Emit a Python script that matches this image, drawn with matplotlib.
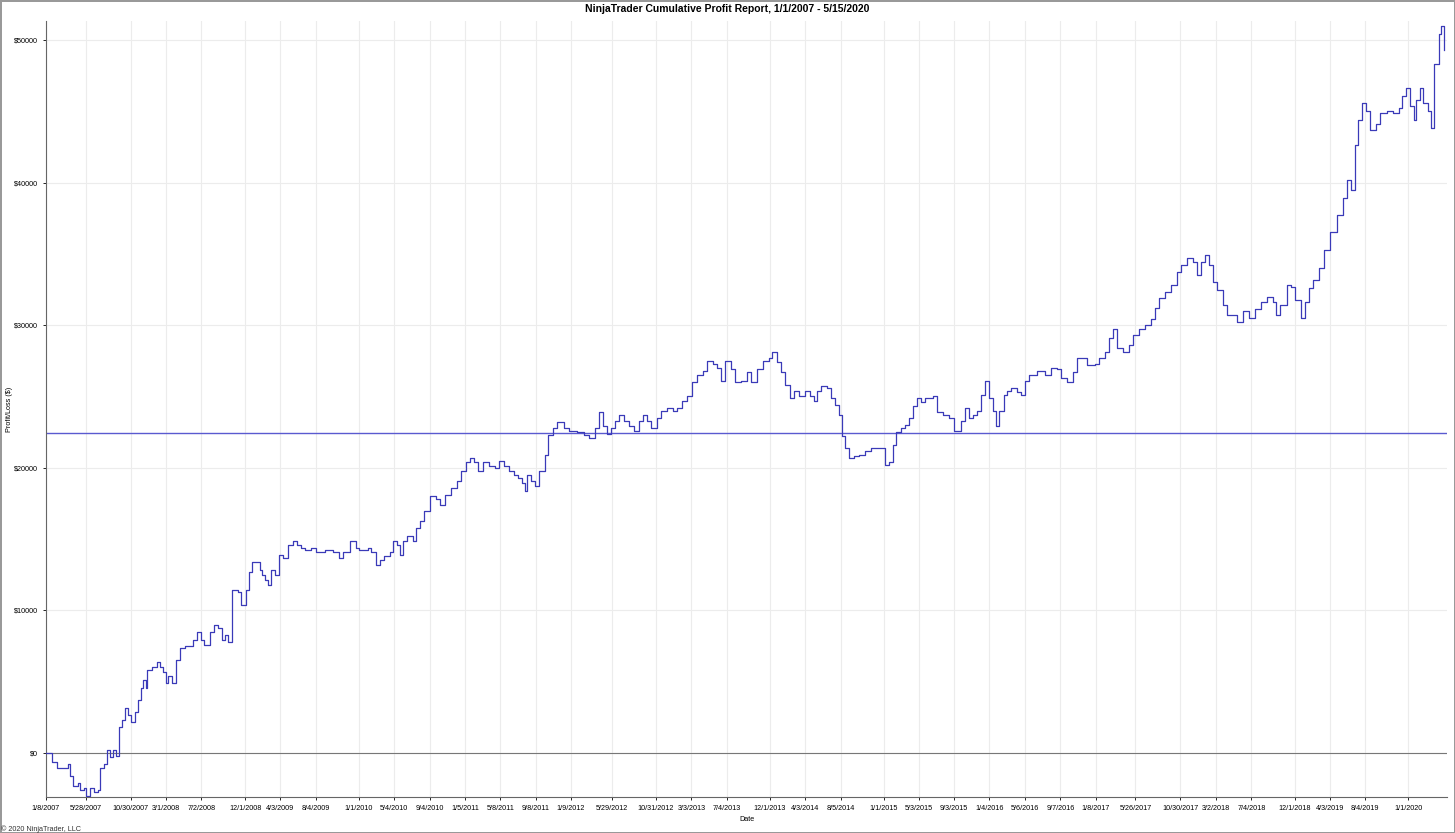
import numpy as np
import pandas as pd
import matplotlib
matplotlib.use("Agg")
import matplotlib.pyplot as plt
from matplotlib.ticker import FuncFormatter

plt.rcParams["font.family"] = ["Liberation Sans", "DejaVu Sans"]

START = pd.Timestamp("2007-01-08")
END = pd.Timestamp("2020-05-15")

# (days since 1/8/2007, cumulative profit $)
trades = [
    (0, 0), (21, -630), (38, -1050), (76, -770), (83, -1600), (94, -2300), (111, -2100),
    (118, -2600), (132, -2450), (139, -3000), (153, -2450), (167, -2700), (181, -2600),
    (188, -1050), (202, -770), (212, 200), (222, -300), (233, 200), (243, -200), (254, 1800),
    (264, 2300), (275, 3150), (285, 2650), (295, 2200), (309, 2900), (320, 3700), (330, 4550),
    (337, 5100), (348, 4550), (351, 5800), (368, 6000), (386, 6400), (396, 6000), (407, 5700),
    (417, 4900), (424, 5400), (438, 4900), (452, 6500), (466, 7350), (483, 7500), (511, 7900),
    (525, 8500), (539, 7900), (549, 7600), (570, 8500), (584, 9000), (598, 8800), (612, 7900),
    (622, 8300), (633, 7800), (647, 11400), (667, 11300), (678, 10400), (695, 11400),
    (706, 12700), (716, 13400), (744, 12800), (751, 12500), (761, 12100), (772, 11800),
    (782, 12800), (796, 12500), (810, 13900), (824, 13700), (841, 14600), (859, 14900),
    (872, 14600), (886, 14400), (900, 14200), (921, 14400), (939, 14100), (970, 14200),
    (998, 14100), (1018, 13700), (1032, 14100), (1057, 14900), (1078, 14400), (1091, 14200),
    (1119, 14400), (1130, 14100), (1147, 13200), (1161, 13500), (1178, 13800), (1196, 14100),
    (1206, 14900), (1220, 14600), (1231, 13900), (1241, 14900), (1258, 15200), (1276, 14900),
    (1286, 15800), (1300, 16300), (1317, 17000), (1335, 18000), (1356, 17800), (1370, 17400),
    (1390, 18100), (1411, 18600), (1432, 19100), (1446, 19800), (1460, 20400), (1474, 20700),
    (1491, 20400), (1502, 19800), (1522, 20400), (1543, 20100), (1564, 20000), (1578, 20500),
    (1595, 20100), (1613, 19800), (1627, 19500), (1641, 19300), (1655, 18900), (1668, 18400),
    (1675, 19500), (1689, 19100), (1703, 18700), (1717, 19800), (1735, 20900), (1748, 22300),
    (1766, 22800), (1780, 23200), (1801, 22800), (1821, 22600), (1849, 22500), (1874, 22300),
    (1891, 22100), (1912, 22800), (1926, 23900), (1940, 22900), (1954, 22400), (1967, 22800),
    (1981, 23300), (1995, 23700), (2013, 23300), (2030, 22900), (2047, 22600), (2065, 23300),
    (2079, 23700), (2093, 23300), (2106, 22800), (2127, 23500), (2141, 24000), (2162, 24200),
    (2183, 24000), (2197, 24200), (2214, 24700), (2232, 25000), (2249, 26000), (2266, 26500),
    (2287, 26800), (2301, 27500), (2322, 27300), (2336, 27000), (2350, 26100), (2364, 27500),
    (2385, 26900), (2398, 26000), (2419, 26100), (2440, 26700), (2454, 26000), (2475, 26900),
    (2496, 27500), (2517, 27700), (2527, 28100), (2544, 27400), (2558, 26700), (2572, 25800),
    (2590, 24900), (2604, 25400), (2621, 25000), (2642, 25400), (2659, 25000), (2673, 24700),
    (2684, 25400), (2697, 25700), (2718, 25600), (2732, 24900), (2746, 24400), (2760, 23700),
    (2770, 22200), (2781, 21400), (2795, 20700), (2812, 20800), (2829, 20900), (2850, 21200),
    (2871, 21400), (2920, 20200), (2934, 20400), (2948, 21600), (2958, 22500), (2976, 22800),
    (2989, 23000), (3003, 23500), (3017, 24300), (3031, 24900), (3045, 24600), (3059, 24900),
    (3087, 25000), (3101, 23900), (3121, 23700), (3142, 23500), (3160, 22600), (3184, 23300),
    (3198, 24200), (3212, 23500), (3226, 23700), (3240, 24000), (3253, 25100), (3267, 26100),
    (3281, 24900), (3295, 24000), (3306, 22900), (3316, 24000), (3333, 25100), (3344, 25400),
    (3358, 25600), (3379, 25300), (3393, 25100), (3406, 26100), (3420, 26500), (3448, 26800),
    (3476, 26500), (3497, 27000), (3518, 26900), (3532, 26300), (3553, 26000), (3573, 26700),
    (3587, 27700), (3622, 27200), (3650, 27300), (3664, 27700), (3685, 28100), (3698, 29100),
    (3712, 29700), (3726, 28400), (3747, 28100), (3768, 28600), (3782, 29300), (3803, 29700),
    (3824, 30000), (3844, 30400), (3858, 31200), (3872, 31900), (3893, 32300), (3914, 32800),
    (3935, 33700), (3949, 34200), (3970, 34700), (3990, 34400), (4004, 33500), (4018, 34400),
    (4032, 34900), (4046, 34200), (4060, 33000), (4074, 32500), (4095, 31400), (4109, 30700),
    (4143, 30200), (4164, 31000), (4185, 30500), (4206, 31100), (4227, 31600), (4248, 32000),
    (4269, 31600), (4282, 30700), (4296, 31400), (4317, 32800), (4331, 32700), (4345, 31800),
    (4366, 30500), (4380, 31600), (4394, 32600), (4408, 33200), (4429, 34000), (4449, 35300),
    (4470, 36500), (4491, 37700), (4512, 38900), (4526, 40200), (4540, 39500), (4554, 42600),
    (4567, 44400), (4581, 45600), (4595, 45000), (4609, 43700), (4630, 44100), (4644, 44900),
    (4665, 45000), (4686, 44900), (4707, 45200), (4720, 46100), (4734, 46600), (4748, 45400),
    (4762, 44400), (4769, 45800), (4783, 46600), (4793, 45600), (4811, 45000), (4821, 43800),
    (4832, 48300), (4846, 50400), (4856, 51000), (4866, 49300),
]
day_offsets = [d for d, _ in trades]
profit = [v for _, v in trades]
average_profit = 22450

tick_labels = ["1/8/2007", "5/28/2007", "10/30/2007", "3/1/2008", "7/2/2008", "12/1/2008",
               "4/3/2009", "8/4/2009", "1/1/2010", "5/4/2010", "9/4/2010", "1/5/2011",
               "5/8/2011", "9/8/2011", "1/9/2012", "5/29/2012", "10/31/2012", "3/3/2013",
               "7/4/2013", "12/1/2013", "4/3/2014", "8/5/2014", "1/1/2015", "5/3/2015",
               "9/3/2015", "1/4/2016", "5/6/2016", "9/7/2016", "1/8/2017", "5/26/2017",
               "10/30/2017", "3/2/2018", "7/4/2018", "12/1/2018", "4/3/2019", "8/4/2019",
               "1/1/2020"]
y_ticks = [0, 10000, 20000, 30000, 40000, 50000]

dates = START + pd.to_timedelta(day_offsets, unit="D")
tick_dates = pd.to_datetime(tick_labels, format="%m/%d/%Y")

fig = plt.figure(figsize=(14.55, 8.33), dpi=100)
fig.patch.set_edgecolor("#999999")
fig.patch.set_linewidth(2)
ax = fig.add_axes([0.0316, 0.0432, 0.963, 0.9316])

ax.step(dates, profit, where="post", color="#3a3ab8", lw=0.9, zorder=3)
ax.axhline(0, color="#777777", lw=0.8, zorder=2)
ax.axhline(average_profit, color="#5a5ad0", lw=1.0, zorder=2)

ax.set_xlim(START, END)
ax.set_ylim(-3086, 51330)
ax.set_xticks(tick_dates)
ax.set_xticklabels(tick_labels)
ax.set_yticks(y_ticks)
ax.yaxis.set_major_formatter(FuncFormatter(lambda v, p: f"${int(v)}"))
ax.tick_params(labelsize=5.2, length=2, width=0.6)
ax.grid(True, color="#ececec", lw=0.8)
ax.set_axisbelow(True)
for side in ["top", "right"]:
    ax.spines[side].set_visible(False)
for side in ["left", "bottom"]:
    ax.spines[side].set_color("#666666")
    ax.spines[side].set_linewidth(0.8)

ax.set_xlabel("Date", fontsize=5.2, labelpad=3)
ax.set_ylabel("Profit/Loss ($)", fontsize=5.2, labelpad=1)
fig.suptitle("NinjaTrader Cumulative Profit Report, 1/1/2007 - 5/15/2020",
             fontsize=7.5, fontweight="bold", y=0.995)
fig.text(0.001, 0.003, "\u00a9 2020 NinjaTrader, LLC", fontsize=5.2, color="#333333")

fig.savefig("out.png", dpi=100, edgecolor=fig.get_edgecolor())
